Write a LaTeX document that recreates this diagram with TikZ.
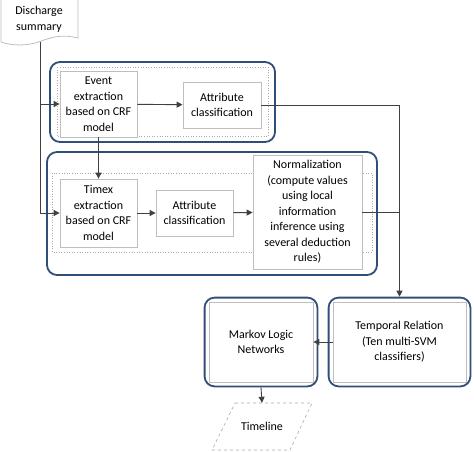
\documentclass[tikz,border=0pt]{standalone}
\usepackage{fontspec}
\setmainfont{Carlito}
\usetikzlibrary{arrows.meta,fit}
\definecolor{bluec}{RGB}{48,78,122}
\definecolor{boxgray}{RGB}{190,190,190}
\definecolor{dotgray}{RGB}{170,170,170}
\definecolor{arrgray}{RGB}{64,64,64}
\begin{document}
\begin{tikzpicture}[x=1pt,y=-1pt,
  font=\fontsize{12}{15.5}\selectfont,
  box/.style={draw=boxgray, line width=0.8pt, fill=white, align=center, inner sep=2pt},
  outer/.style={draw=bluec, line width=1.8pt, rounded corners=10pt},
  dotbox/.style={draw=dotgray, dotted, line width=0.6pt},
  docdash/.style={draw=dotgray, dashed, line width=0.6pt},
  docline/.style={draw=boxgray, line width=0.8pt},
  arr/.style={draw=arrgray, line width=0.9pt, -{Triangle[length=6pt,width=6pt]}},
  conn/.style={draw=arrgray, line width=0.9pt},
  bluebox/.style={outer, inner sep=4pt}]
\useasboundingbox (0,0) rectangle (474,451);
% group frames
\draw[outer] (50,62) rectangle (275,142);
\draw[dotbox] (57,67) rectangle (268,136);
\draw[outer] (47,152) rectangle (377,275);
\draw[dotbox] (52,173) rectangle (372,252);
% discharge summary document
\draw[docline, fill=white] (1,-1) -- (78,-1) -- (78,38)
  .. controls (62,34) and (52,37) .. (40,41.5)
  .. controls (28,46) and (12,46) .. (1,42) -- cycle;
\node[align=center] (ds) at (39,19.5) {Discharge\\summary};
\coordinate (dsb) at (40,41.5);
% boxes
\node[box, minimum width=77pt, minimum height=66pt] (event) at (98.5,104) {Event\\extraction\\based on CRF\\model};
\node[box, minimum width=78pt, minimum height=46pt] (attr1) at (222,105) {Attribute\\classification};
\node[box, minimum width=77pt, minimum height=68pt] (timex) at (98.5,213) {Timex\\extraction\\based on CRF\\model};
\node[box, minimum width=77pt, minimum height=46pt] (attr2) at (194.5,213) {Attribute\\classification};
\node[box, minimum width=109pt, minimum height=114pt] (norm) at (307.5,212) {Normalization\\(compute values\\using local\\information\\inference using\\several deduction\\rules)};
\node[box, minimum width=104pt, minimum height=80pt] (markov) at (261,342) {Markov Logic\\Networks};
\node[box, minimum width=133pt, minimum height=80pt] (temporal) at (399.5,342) {Temporal Relation\\(Ten multi-SVM\\classifiers)};
\node[bluebox, fit=(markov)] (markovf) {};
\node[bluebox, fit=(temporal)] (temporalf) {};
% timeline
\draw[docdash] (235,403) -- (312,403) -- (290,450) -- (212,450) -- cycle;
\node[minimum height=47pt, inner sep=0pt] (timeline) at (262,426.5) {Timeline};
% connectors
\draw[arr] (dsb) |- (event.west);
\draw[arr] (dsb) |- (timex.west);
\draw[arr] (event) -- (attr1);
\draw[arr] (event) -- (timex);
\draw[arr] (timex) -- (attr2);
\draw[arr] (attr2) -- (norm);
\draw[arr] (attr1.east) -| (temporalf.north);
\draw[conn] (norm.east) -- (norm.east -| temporalf.north);
\draw[arr] (temporal.west) -- (markov.east);
\draw[arr] (markovf.south) -- (timeline.north);
\end{tikzpicture}
\end{document}
